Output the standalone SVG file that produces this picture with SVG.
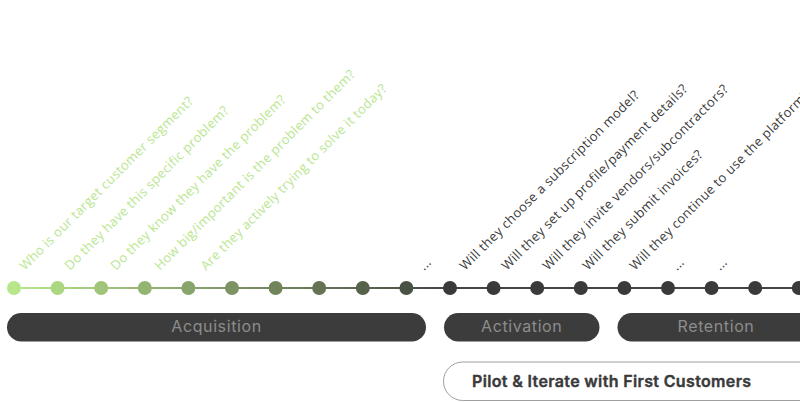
<svg xmlns="http://www.w3.org/2000/svg" width="800" height="402" viewBox="0 0 800 402">
<defs>
<linearGradient id="lg" gradientUnits="userSpaceOnUse" x1="14" y1="0" x2="450" y2="0">
<stop offset="0" stop-color="#b8e68a"/>
<stop offset="1" stop-color="#444444"/>
</linearGradient>
<style>
.q{font-family:"Open Sans","Liberation Sans",sans-serif;font-size:13px;letter-spacing:0.35px;}
.g{fill:#b9e68f;}
.d{fill:#3a3a3a;}
.pill{fill:#3c3c3c;}
.pt{font-family:Inter,"Liberation Sans",sans-serif;font-size:16px;letter-spacing:0.6px;fill:#8c8c8c;text-anchor:middle;}
</style>
</defs>
<rect width="800" height="402" fill="#ffffff"/>
<g id="connectors">
<line x1="14" y1="288" x2="800" y2="288" stroke="url(#lg)" stroke-width="2"/>
</g>
<g id="dots">
<circle cx="14" cy="288" r="7" fill="#b8e68a"/>
<circle cx="57.6" cy="288" r="7" fill="#acd682"/>
<circle cx="101.2" cy="288" r="7" fill="#a0c57a"/>
<circle cx="144.8" cy="288" r="7" fill="#93b572"/>
<circle cx="188.4" cy="288" r="7" fill="#87a46a"/>
<circle cx="232" cy="288" r="7" fill="#7b9462"/>
<circle cx="275.6" cy="288" r="7" fill="#6f845b"/>
<circle cx="319.2" cy="288" r="7" fill="#637353"/>
<circle cx="362.8" cy="288" r="7" fill="#56634b"/>
<circle cx="406.4" cy="288" r="7" fill="#4a5243"/>
<circle cx="450" cy="288" r="7" fill="#3a3a3a"/>
<circle cx="493.6" cy="288" r="7" fill="#3a3a3a"/>
<circle cx="537.2" cy="288" r="7" fill="#3a3a3a"/>
<circle cx="580.8" cy="288" r="7" fill="#3a3a3a"/>
<circle cx="624.4" cy="288" r="7" fill="#3a3a3a"/>
<circle cx="668" cy="288" r="7" fill="#3a3a3a"/>
<circle cx="711.6" cy="288" r="7" fill="#3a3a3a"/>
<circle cx="755.2" cy="288" r="7" fill="#3a3a3a"/>
<circle cx="798.8" cy="288" r="7" fill="#3a3a3a"/>
</g>
<g id="labels">
<text class="q g" transform="translate(25,271) rotate(-45)">Who is our target customer segment?</text>
<text class="q g" transform="translate(70,271) rotate(-45)">Do they have this specific problem?</text>
<text class="q g" transform="translate(116,271) rotate(-45)">Do they know they have the problem?</text>
<text class="q g" transform="translate(160,271) rotate(-45)">How big/important is the problem to them?</text>
<text class="q g" transform="translate(206,271) rotate(-45)">Are they actively trying to solve it today?</text>
<text class="q d" transform="translate(424,271) rotate(-45)">...</text>
<text class="q d" transform="translate(465,271) rotate(-45)">Will they choose a subscription model?</text>
<text class="q d" transform="translate(507,271) rotate(-45)">Will they set up profile/payment details?</text>
<text class="q d" transform="translate(548,271) rotate(-45)">Will they invite vendors/subcontractors?</text>
<text class="q d" transform="translate(588,271) rotate(-45)">Will they submit invoices?</text>
<text class="q d" transform="translate(635,271) rotate(-45)">Will they continue to use the platform?</text>
<text class="q d" transform="translate(677,271) rotate(-45)">...</text>
<text class="q d" transform="translate(720,271) rotate(-45)">...</text>
</g>
<g id="acquisition">
<rect class="pill" x="7" y="313" width="419" height="28.5" rx="14.25"/>
<text class="pt" x="216.5" y="332">Acquisition</text>
</g>
<g id="activation">
<rect class="pill" x="444" y="313" width="155.5" height="28.5" rx="14.25"/>
<text class="pt" x="521.7" y="332">Activation</text>
</g>
<g id="retention">
<rect class="pill" x="617.5" y="313" width="200" height="28.5" rx="14.25"/>
<text class="pt" x="716" y="332">Retention</text>
</g>
<g id="pilot">
<rect x="443.5" y="362" width="380" height="38.5" rx="19.25" fill="#ffffff" stroke="#a0a0a0" stroke-width="1"/>
<text x="472" y="387" font-family="Inter,'Liberation Sans',sans-serif" font-size="16" font-weight="600" letter-spacing="0.35" fill="#3a3a3a" stroke="#3a3a3a" stroke-width="0.4">Pilot &amp; Iterate with First Customers</text>
</g>
</svg>
